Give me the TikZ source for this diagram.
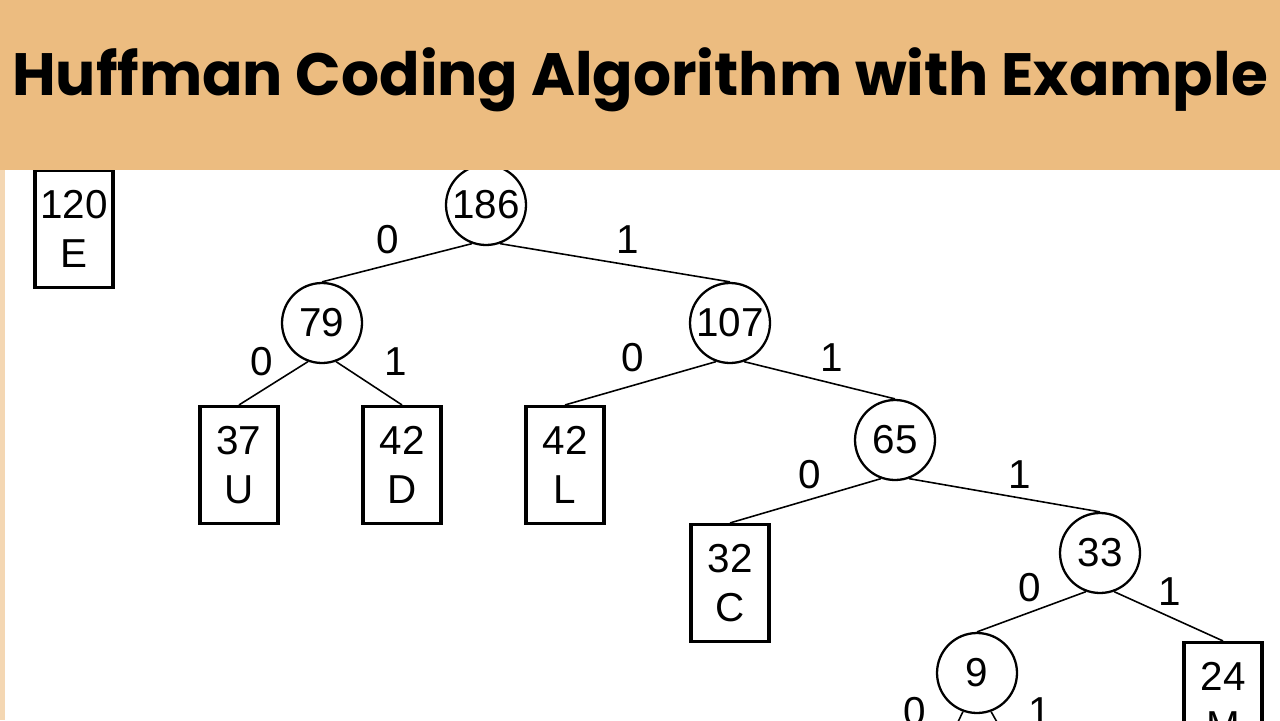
\documentclass[tikz,border=0pt]{standalone}
\usepackage{fontspec}
\setmainfont{Liberation Sans}
\newfontfamily\titlefont{Poppins}
\usetikzlibrary{positioning}
\definecolor{band}{RGB}{236,188,128}
\tikzset{
  inner/.style={circle,draw,line width=1.3pt,minimum size=1.6cm,inner sep=0pt,font=\fontsize{23}{28}\selectfont,fill=white},
  leaf/.style={rectangle,draw,line width=1.8pt,minimum width=1.56cm,minimum height=2.34cm,align=center,inner sep=0pt,font=\fontsize{23}{28}\selectfont},
  bit/.style={font=\fontsize{23}{28}\selectfont},
  edge/.style={line width=0.9pt}
}
\begin{document}
\begin{tikzpicture}[x=0.02cm,y=-0.02cm]
	\useasboundingbox (0,0) rectangle (1280,720);
	\clip (0,0) rectangle (1280,720);
	\fill[band!60] (0,0) rectangle (5,720);
	
	\node[inner] (n186) at (486,205) {186};
	\node[inner] (n79) at (322,323) {79};
	\node[inner] (n107) at (730,323) {107};
	\node[inner] (n65) at (895,440) {65};
	\node[inner] (n33) at (1100,553) {33};
	\node[inner] (n9) at (977,673) {9};
	
	\node[leaf] (E) at (74,229) {120\\E};
	\node[leaf] (U) at (239,465) {37\\U};
	\node[leaf] (D) at (402,465) {42\\D};
	\node[leaf] (L) at (565,465) {42\\L};
	\node[leaf] (C) at (730,583) {32\\C};
	\node[leaf] (M) at (1223,701) {24\\M};
	\coordinate (x0) at (930,780);
	\coordinate (x1) at (1030,780);
	
	\draw[edge] (n186.250) -- (n79.north);
	\draw[edge] (n186.290) -- (n107.north);
	\draw[edge] (n79.250) -- (U.north);
	\draw[edge] (n79.290) -- (D.north);
	\draw[edge] (n107.250) -- (L.north);
	\draw[edge] (n107.290) -- (n65.north);
	\draw[edge] (n65.250) -- (C.north);
	\draw[edge] (n65.290) -- (n33.north);
	\draw[edge] (n33.250) -- (n9.north);
	\draw[edge] (n33.290) -- (M.north);
	\draw[edge] (n9.250) -- (x0);
	\draw[edge] (n9.290) -- (x1);
	
	\node[bit] (b1) at (388,240) {0};
	\node[bit] (b2) at (628,240) {1};
	\node[bit] (b3) at (262,362) {0};
	\node[bit] (b4) at (396,362) {1};
	\node[bit] (b5) at (633,358) {0};
	\node[bit] (b6) at (832,358) {1};
	\node[bit] (b7) at (810,475) {0};
	\node[bit] (b8) at (1020,475) {1};
	\node[bit] (b9) at (1030,588) {0};
	\node[bit] (b10) at (1170,592) {1};
	\node[bit] (b11) at (915,712) {0};
	\node[bit] (b12) at (1040,712) {1};
	
	% title band
	\fill[band] (0,0) rectangle (1280,170);
	\node[font=\titlefont\bfseries\fontsize{34}{38}\selectfont] (title) at (640,80) {Huffman Coding Algorithm with Example};
\end{tikzpicture}
\end{document}
